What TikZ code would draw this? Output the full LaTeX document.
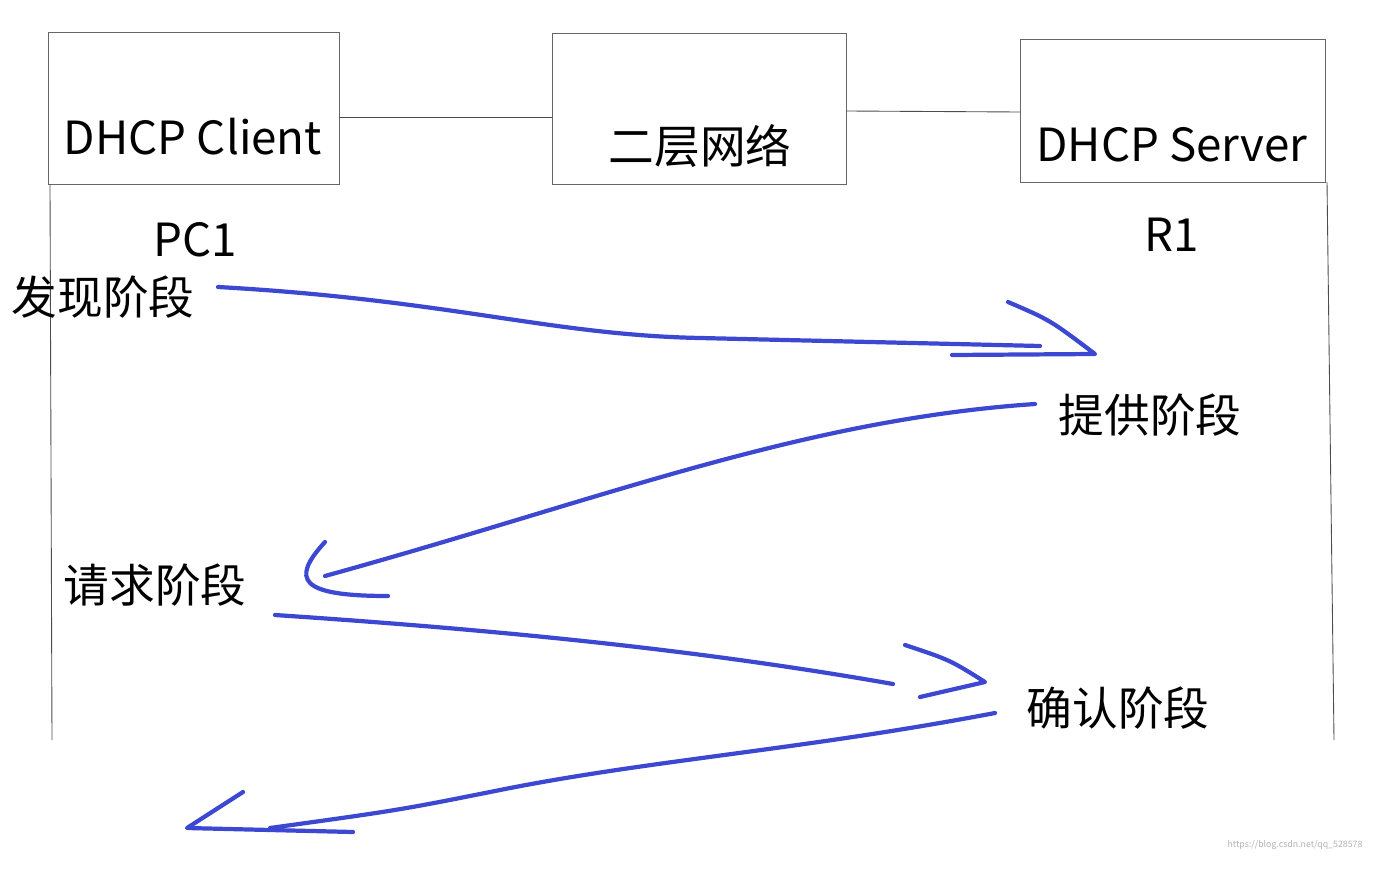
\documentclass[tikz,border=0pt]{standalone}
\usepackage{fontspec}
\setmainfont{Noto Sans CJK SC}
\begin{document}
\begin{tikzpicture}[x=0.02cm,y=-0.02cm]
    \tikzstyle{box}=[draw=black!60,line width=0.5pt]
    \tikzstyle{life}=[draw=black!70,line width=0.5pt]
    \tikzstyle{pen}=[draw={rgb,255:red,60;green,72;blue,210},line width=2.4pt,line cap=round,line join=round]
    \tikzstyle{big}=[font=\fontsize{26}{30}\selectfont]
    \useasboundingbox (0,0) rectangle (1389,875);

    % the three boxes
    \draw[box] (48,32) rectangle (339,184);
    \draw[box] (552,33) rectangle (846,184);
    \draw[box] (1020,39) rectangle (1325,182);
    \node[big] (client) at (193,137) {DHCP Client};
    \node[big] (net) at (700,146) {二层网络};
    \node[big] (server) at (1172,145) {DHCP Server};
    \coordinate (c-r) at (339,117);
    \coordinate (n-l) at (552,117);
    \coordinate (n-r) at (846,111);
    \coordinate (s-l) at (1020,112);
    \draw[life] (c-r) -- (n-l);
    \draw[life] (n-r) -- (s-l);

    % life lines
    \coordinate (pc-top) at (50,184);
    \coordinate (pc-bot) at (52,740);
    \coordinate (r-top) at (1327,182);
    \coordinate (r-bot) at (1334,740);
    \draw[life] (pc-top) -- (pc-bot);
    \draw[life] (r-top) -- (r-bot);

    % labels
    \node[big] (pc1) at (195,240) {PC1};
    \node[big] (r1) at (1172,235) {R1};
    \node[big] (find) at (103,297) {发现阶段};
    \node[big] (offer) at (1150,415) {提供阶段};
    \node[big] (req) at (155,585) {请求阶段};
    \node[big] (ack) at (1118,708) {确认阶段};
    \node[text=black!30,font=\tiny] (mark) at (1295,845) {https://blog.csdn.net/qq\_528578};

    % hand drawn arrows
    \draw[pen] (218,287) .. controls (450,300) and (550,335) .. (700,338) -- (1040,346);
    \draw[pen] (1008,302) .. controls (1050,320) .. (1095,354) -- (952,355);
    \draw[pen] (1035,404) .. controls (800,420) and (600,500) .. (325,576);
    \draw[pen] (325,542) .. controls (290,580) and (300,596) .. (388,596);
    \draw[pen] (275,615) .. controls (500,630) and (700,650) .. (893,684);
    \draw[pen] (905,645) .. controls (950,660) .. (985,682) -- (920,697);
    \draw[pen] (995,713) .. controls (800,750) and (650,760) .. (500,790) .. controls (400,810) .. (270,828);
    \draw[pen] (243,792) -- (187,828) -- (353,832);
\end{tikzpicture}
\end{document}
